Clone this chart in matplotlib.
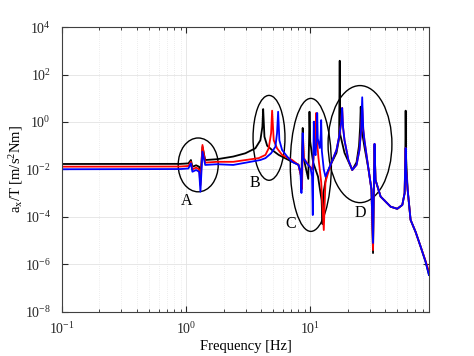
import matplotlib
matplotlib.use('Agg')
import matplotlib.pyplot as plt
from matplotlib.patches import Ellipse
from matplotlib.ticker import LogLocator, NullLocator, NullFormatter

plt.rcParams['font.family'] = ['Liberation Serif', 'DejaVu Serif']
plt.rcParams['mathtext.fontset'] = 'custom'
plt.rcParams['mathtext.rm'] = 'Liberation Serif'
plt.rcParams['mathtext.it'] = 'Liberation Serif:italic'

# black curve
freq_k = [0.1, 0.9, 1.04, 1.09, 1.12, 1.20, 1.27, 1.30, 1.35, 1.42, 1.77, 2.39, 2.99, 3.60, 3.95,
          4.10, 4.16, 4.26, 4.48, 4.91, 5.55, 7.12, 8.0, 8.45, 8.55, 8.66, 8.8, 9.12, 9.6, 9.75,
          9.82, 9.95, 10.5, 11.5, 12.3, 12.5, 12.7, 13.5, 14.5, 16.2, 17.0, 17.2, 17.35, 18.8,
          21.7, 23.5, 24.6, 25.1, 25.4, 25.8, 27.2, 29.4, 31.0, 31.9, 32.4, 32.8, 33.4, 36.7,
          44.2, 50.0, 54.9, 57.3, 58.0, 58.4, 58.9, 60.6, 64.0, 70.3, 77.1, 84.5, 90]
amp_k = [0.017, 0.0172, 0.018, 0.025, 0.013, 0.015, 0.013, 0.004, 0.09, 0.025, 0.027, 0.035, 0.048,
         0.078, 0.17, 0.63, 3.5, 0.24, 0.10, 0.066, 0.041, 0.021, 0.016, 0.005, 0.04, 0.56, 0.03,
         0.0132, 0.004, 0.2, 2.7, 0.15, 0.02, 0.005, 0.0005, 5e-5, 0.001, 0.006, 0.0155, 0.05,
         0.2, 380, 0.3, 0.05, 0.0095, 0.02, 0.1, 0.6, 4.4, 0.5, 0.09, 0.0095, 0.0014, 3e-6,
         0.002, 0.1, 0.0036, 7.2e-4, 2.7e-4, 2.2e-4, 3.2e-4, 0.001, 0.03, 3.0, 0.03, 0.0014,
         7.5e-5, 2.3e-5, 5.6e-6, 1.3e-6, 3.6e-7]

# red curve
freq_r = [0.1, 0.9, 1.04, 1.09, 1.12, 1.20, 1.27, 1.30, 1.35, 1.42, 1.77, 2.39, 3.83, 4.34, 4.61,
          4.82, 4.91, 5.06, 5.38, 5.91, 7.12, 8.0, 8.4, 8.55, 8.7, 8.85, 9.5, 10.3, 10.6, 10.77,
          10.9, 11.05, 11.12, 11.25, 11.6, 12.2, 12.8, 13.2, 14.5, 16.2, 17.1, 17.7, 18.0, 18.3,
          18.8, 20.2, 21.7, 23.5, 24.8, 25.6, 26.1, 26.6, 27.2, 29.4, 31.0, 31.9, 32.4, 32.8,
          33.4, 36.7, 44.2, 50.0, 54.9, 57.3, 58.0, 58.4, 58.9, 60.6, 64.0, 70.3, 77.1, 84.5, 90]
amp_r = [0.0131, 0.0133, 0.014, 0.021, 0.010, 0.012, 0.010, 0.0022, 0.108, 0.0194, 0.021, 0.021,
         0.030, 0.041, 0.078, 0.34, 3.0, 0.17, 0.078, 0.041, 0.025, 0.0155, 0.005, 0.0015, 0.3,
         0.03, 0.017, 0.01, 0.03, 1.03, 0.1, 0.2, 2.4, 0.2, 0.03, 0.003, 2.8e-5, 0.003, 0.0155,
         0.066, 0.28, 1.0, 3.9, 0.6, 0.17, 0.025, 0.0095, 0.0155, 0.066, 0.5, 4.0, 0.5, 0.17,
         0.0095, 0.0014, 4e-6, 0.002, 0.12, 0.0036, 7.2e-4, 2.7e-4, 2.2e-4, 3.2e-4, 0.001, 0.02,
         0.08, 0.01, 0.0014, 7.5e-5, 2.3e-5, 5.6e-6, 1.4e-6, 5e-7]

# blue curve
freq_b = [0.1, 0.9, 1.04, 1.09, 1.12, 1.20, 1.27, 1.30, 1.35, 1.42, 1.77, 2.39, 3.95, 4.34, 4.82,
          5.22, 5.38, 5.49, 5.62, 5.91, 6.49, 7.12, 8.0, 8.3, 8.46, 8.58, 8.66, 8.76, 9.28, 10.0,
          10.3, 10.44, 10.56, 10.64, 10.75, 11.0, 11.25, 11.33, 11.45, 11.9, 12.1, 12.2, 12.35,
          12.8, 13.2, 14.5, 16.2, 17.1, 17.7, 18.0, 18.3, 18.8, 20.2, 21.7, 23.5, 24.8, 25.6,
          26.1, 26.6, 27.2, 29.4, 31.0, 31.9, 32.4, 32.8, 33.4, 36.7, 44.2, 50.0, 54.9, 57.3,
          58.0, 58.4, 58.9, 60.6, 64.0, 70.3, 77.1, 84.5, 90]
amp_b = [0.0102, 0.0104, 0.011, 0.018, 0.008, 0.0095, 0.008, 0.00116, 0.056, 0.0155, 0.0166,
         0.0155, 0.025, 0.030, 0.048, 0.091, 0.34, 2.7, 0.17, 0.066, 0.035, 0.021, 0.0155, 0.008,
         0.00102, 0.02, 0.34, 0.03, 0.019, 0.012, 0.005, 0.00012, 0.05, 1.03, 0.05, 0.04, 0.3,
         2.4, 0.2, 0.08, 0.3, 1.2, 0.06, 0.01, 0.005, 0.0155, 0.066, 0.28, 1.0, 3.9, 0.6, 0.17,
         0.025, 0.0095, 0.0155, 0.066, 0.5, 11.0, 0.5, 0.17, 0.0095, 0.0014, 8e-6, 0.002, 0.12,
         0.0036, 7.2e-4, 2.7e-4, 2.2e-4, 3.2e-4, 0.001, 0.02, 0.08, 0.01, 0.0014, 7.5e-5, 2.3e-5,
         5.6e-6, 1.3e-6, 3.6e-7]

# circled regions: label, centre (axes fraction), width, height, label position
regions = [('A', (0.371, 0.516), 0.109, 0.189, (0.338, 0.389)),
           ('B', (0.564, 0.611), 0.087, 0.298, (0.526, 0.453)),
           ('C', (0.678, 0.516), 0.112, 0.467, (0.624, 0.309)),
           ('D', (0.812, 0.589), 0.174, 0.411, (0.812, 0.347))]

fig = plt.figure(figsize=(4.74, 3.56), dpi=100)
ax = fig.add_axes([0.131, 0.124, 0.774, 0.800])

ax.loglog(freq_k, amp_k, color='black', lw=1.3)
ax.loglog(freq_r, amp_r, color='#ff0000', lw=1.3)
ax.loglog(freq_b, amp_b, color='#0000ff', lw=1.3)

ax.set_xlim(0.1, 90)
ax.set_ylim(1e-8, 1e4)
ax.set_yticks([1e-8, 1e-6, 1e-4, 1e-2, 1e0, 1e2, 1e4])
ax.yaxis.set_minor_locator(NullLocator())
ax.xaxis.set_minor_locator(LogLocator(base=10, subs=range(2, 10)))
ax.xaxis.set_minor_formatter(NullFormatter())

ax.grid(True, which='major', color='#e3e3e3', lw=0.6, ls='-')
ax.grid(True, which='minor', axis='x', color='#dedede', lw=0.5, ls=(0, (1, 2)))
ax.set_axisbelow(True)

ax.tick_params(which='both', direction='in', top=True, right=True, labelsize=10,
               colors='#262626')
ax.tick_params(which='major', length=4)
ax.tick_params(which='minor', length=2)
ax.tick_params(axis='x', which='major', pad=7)
ax.tick_params(axis='y', which='major', pad=8)
for s in ax.spines.values():
    s.set_color('#404040')
    s.set_linewidth(0.8)

for lab, c, w, h, pos in regions:
    ax.add_patch(Ellipse(c, w, h, transform=ax.transAxes, fill=False, ec='black', lw=1.0))
    ax.text(pos[0], pos[1], lab, transform=ax.transAxes, fontsize=11.5, ha='center', va='center')

ax.set_xlabel('Frequency [Hz]', fontsize=10.5, labelpad=2)
ax.set_ylabel(r'a$_{\rm x}$/T [m/s$^{\rm 2}$Nm]', fontsize=10.5, labelpad=0)

fig.savefig('out.png', dpi=100)
